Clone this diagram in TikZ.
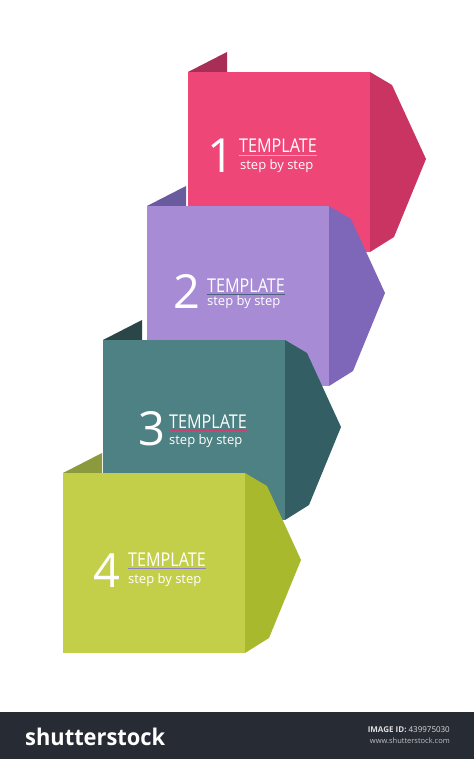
\documentclass[tikz,border=0pt]{standalone}
\usepackage{fontspec}
\setmainfont{Open Sans}
\usetikzlibrary{positioning}

\definecolor{pinkfront}{HTML}{EF4678}
\definecolor{pinkside}{HTML}{CA3462}
\definecolor{pinktab}{HTML}{A82D57}
\definecolor{lilacfront}{HTML}{A78BD5}
\definecolor{lilacside}{HTML}{7E66B9}
\definecolor{lilactab}{HTML}{6A5A9E}
\definecolor{tealfront}{HTML}{4E8183}
\definecolor{tealside}{HTML}{335E63}
\definecolor{tealtab}{HTML}{2A4649}
\definecolor{limefront}{HTML}{C4CF49}
\definecolor{limeside}{HTML}{A9B92D}
\definecolor{limetab}{HTML}{8A9A3C}
\definecolor{ulyellow}{HTML}{CFC957}
\definecolor{ulslate}{HTML}{4B5F78}
\definecolor{ulpink}{HTML}{C9406F}
\definecolor{ulviolet}{HTML}{8E7FC9}
\definecolor{barbg}{HTML}{272B34}

\begin{document}
\begin{tikzpicture}[x=1pt, y=-1pt,
    digit/.style={anchor=base east, inner sep=0pt, text=white, font=\fontsize{47}{47}\selectfont},
    title/.style={anchor=base west, inner sep=0pt, text=white, font=\fontsize{19}{19}\selectfont},
    sub/.style={anchor=base west, inner sep=0pt, text=white, font=\fontsize{13}{13}\selectfont},
    ul/.style={line width=1.6pt}]
    \fill[white] (0,0) rectangle (474,759);
    \useasboundingbox (0,0) rectangle (474,759);

    % step 1
    \begin{scope}[shift={(188,72)}]
        \fill[pinktab] (0,0) -- (39,-20) -- (39,0) -- cycle;
        \fill[pinkside] (182,0) -- (204,13) -- (238,87) -- (206,165) -- (182,180) -- cycle;
        \fill[pinkfront] (0,0) rectangle (182,180);
        \node[digit] (n1) at (47,101) {1};
        \node[title] (t1) at (51,81) {\scalebox{0.85}[1]{TEMPLATE}};
        \node[sub] (s1) at (52,98) {step by step};
        \draw[ul, ulyellow] ([yshift=-2.5pt]t1.base west) -- ([yshift=-2.5pt]t1.base east);
    \end{scope}

    % step 2
    \begin{scope}[shift={(147,206)}]
        \fill[lilactab] (0,0) -- (39,-20) -- (39,0) -- cycle;
        \fill[lilacside] (182,0) -- (204,13) -- (238,87) -- (206,165) -- (182,180) -- cycle;
        \fill[lilacfront] (0,0) rectangle (182,180);
        \node[digit] (n2) at (54,102) {2};
        \node[title] (t2) at (60,86) {\scalebox{0.85}[1]{TEMPLATE}};
        \node[sub] (s2) at (60,99) {step by step};
        \draw[ul, ulslate] ([yshift=-2.5pt]t2.base west) -- ([yshift=-2.5pt]t2.base east);
    \end{scope}

    % step 3
    \begin{scope}[shift={(103,340)}]
        \fill[tealtab] (0,0) -- (39,-20) -- (39,0) -- cycle;
        \fill[tealside] (182,0) -- (204,13) -- (238,87) -- (206,165) -- (182,180) -- cycle;
        \fill[tealfront] (0,0) rectangle (182,180);
        \node[digit] (n3) at (63,105) {3};
        \node[title] (t3) at (66,88) {\scalebox{0.85}[1]{TEMPLATE}};
        \node[sub] (s3) at (66,104) {step by step};
        \draw[ul, ulpink] ([yshift=-2.5pt]t3.base west) -- ([yshift=-2.5pt]t3.base east);
    \end{scope}

    % step 4
    \begin{scope}[shift={(63,473)}]
        \fill[limetab] (0,0) -- (39,-20) -- (39,0) -- cycle;
        \fill[limeside] (182,0) -- (204,13) -- (238,87) -- (206,165) -- (182,180) -- cycle;
        \fill[limefront] (0,0) rectangle (182,180);
        \node[digit] (n4) at (58,114) {4};
        \node[title] (t4) at (65,93) {\scalebox{0.85}[1]{TEMPLATE}};
        \node[sub] (s4) at (65,110) {step by step};
        \draw[ul, ulviolet] ([yshift=-2.5pt]t4.base west) -- ([yshift=-2.5pt]t4.base east);
    \end{scope}

    % bottom bar
    \fill[barbg] (0,712) rectangle (474,759);
    \node[anchor=base west, inner sep=0pt, text=white, font=\bfseries\fontsize{23}{23}\selectfont] (logo) at (25,745) {\scalebox{0.95}[1]{shutterstock}};
    \node[anchor=base east, inner sep=0pt, text=white!85!barbg, font=\fontsize{8}{8}\selectfont] (imgid) at (450,732) {\textbf{IMAGE ID:} 439975030};
    \node[anchor=base east, inner sep=0pt, text=white!70!barbg, font=\fontsize{7.5}{7.5}\selectfont] (site) at (450,743) {www.shutterstock.com};
\end{tikzpicture}
\end{document}
